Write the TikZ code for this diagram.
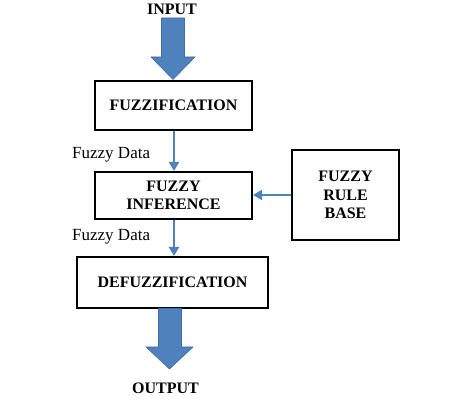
\documentclass[tikz,border=0pt]{standalone}
\usepackage{fontspec}
\setmainfont{Liberation Serif}
\usetikzlibrary{arrows.meta,positioning}
\definecolor{arrblue}{HTML}{4F81BD}
\definecolor{arrdark}{HTML}{3F6DA6}
\begin{document}
\begin{tikzpicture}[x=1pt,y=-1pt,
  blockbox/.style={draw=black,line width=2pt,fill=white,inner sep=0pt,align=center,font=\fontsize{16}{17.5}\selectfont\bfseries},
  lbl/.style={inner sep=0pt,font=\fontsize{16}{18}\selectfont\bfseries},
  datalbl/.style={inner sep=0pt,font=\fontsize{17}{18}\selectfont,anchor=west},
  thinarrow/.style={draw=arrblue,line width=2.6pt,-{Triangle[length=9pt,width=10pt]}},
  bigarrow/.style={fill=arrblue,draw=arrdark,line width=0.6pt,line join=miter}]
\useasboundingbox (0,0) rectangle (474,403);
% boxes
\node[blockbox,minimum width=157pt,minimum height=49pt] (fuzz) at (173.5,105.5) {FUZZIFICATION};
\node[blockbox,minimum width=157pt,minimum height=47pt] (infer) at (173.5,195.5) {FUZZY\\INFERENCE};
\node[blockbox,minimum width=107pt,minimum height=90pt,font=\fontsize{16}{18.5}\selectfont\bfseries] (rule) at (345.5,195) {FUZZY\\RULE\\BASE};
\node[blockbox,minimum width=191pt,minimum height=51pt] (defuzz) at (172.5,282.5) {DEFUZZIFICATION};
% labels
\node[lbl] (input) at (172,9) {INPUT};
\node[lbl] (output) at (165.5,388) {OUTPUT};
\node[datalbl] (fd1) at (72,155) {Fuzzy Data};
\node[datalbl] (fd2) at (72,237) {Fuzzy Data};
% thin arrows
\draw[thinarrow] (fuzz.south -| 174,0) -- (infer.north -| 174,0);
\draw[thinarrow] (infer.south -| 174,0) -- (defuzz.north -| 174,0);
\draw[thinarrow] (rule.west |- 0,195) -- (infer.east |- 0,195);
% big arrows
\draw[bigarrow] (161.5,18) -- (184.5,18) -- (184.5,57) -- (195,57) -- (173,79.5) -- (151,57) -- (161.5,57) -- cycle;
\draw[bigarrow] (158.5,308.5) -- (181.5,308.5) -- (181.5,347) -- (193,347) -- (169.5,369) -- (146,347) -- (158.5,347) -- cycle;
\end{tikzpicture}
\end{document}
